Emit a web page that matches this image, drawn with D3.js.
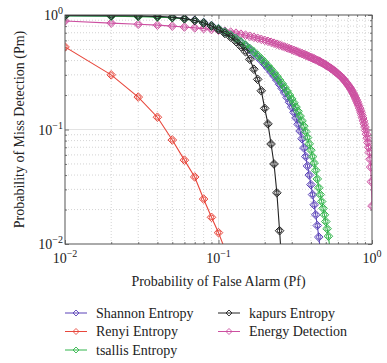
<!DOCTYPE html>
<html><head><meta charset="utf-8">
<script src="https://cdn.jsdelivr.net/npm/d3@7"></script>
<style>
html,body{margin:0;padding:0;background:#fff;}
svg{display:block;}
</style></head>
<body>
<svg id="c" width="387" height="363"></svg>
<script>
// ---- data ----
const seriesNames = ["Shannon Entropy","Renyi Entropy","tsallis Entropy","kapurs Entropy","Energy Detection"];
const seriesColors = ["#5b43b8","#e8473c","#33b54c","#222222","#cc4fa0"];

const pfShannon = [0.01,0.02,0.03,0.04,0.05,0.06,0.07,0.08,0.09,0.10,0.11,0.12,0.13,0.14,0.15,0.16,0.17,0.18,0.19,0.20,0.21,0.22,0.23,0.24,0.25,0.26,0.27,0.28,0.29,0.30,0.31,0.32,0.33,0.34,0.35,0.36,0.37,0.38,0.39,0.40,0.41,0.42,0.43,0.44,0.45,0.46];
const pmShannon = [0.985,0.982,0.975,0.965,0.95,0.93,0.9,0.86,0.81,0.76,0.71,0.665,0.62,0.58,0.54,0.50,0.465,0.43,0.40,0.37,0.343,0.317,0.293,0.27,0.248,0.228,0.209,0.19,0.173,0.157,0.141,0.126,0.111,0.097,0.083,0.069,0.058,0.048,0.040,0.033,0.027,0.022,0.018,0.0145,0.0115,0.009];

const pfRenyi = [0.01,0.02,0.03,0.04,0.05,0.06,0.07,0.08,0.09,0.10,0.11];
const pmRenyi = [0.526,0.30,0.192,0.128,0.081,0.054,0.0385,0.0247,0.0171,0.01256,0.009];

const pfTsallis = [0.01,0.02,0.03,0.04,0.05,0.06,0.07,0.08,0.09,0.10,0.11,0.12,0.13,0.14,0.15,0.16,0.17,0.18,0.19,0.20,0.21,0.22,0.23,0.24,0.25,0.26,0.27,0.28,0.29,0.30,0.31,0.32,0.33,0.34,0.35,0.36,0.37,0.38,0.39,0.40,0.41,0.42,0.43,0.44,0.45,0.46,0.47,0.48,0.49,0.50,0.51,0.52,0.53];
const pmTsallis = [0.98,0.975,0.968,0.958,0.945,0.925,0.895,0.855,0.805,0.755,0.71,0.665,0.622,0.582,0.545,0.51,0.477,0.445,0.415,0.387,0.36,0.336,0.313,0.291,0.27,0.251,0.233,0.216,0.2,0.185,0.171,0.157,0.144,0.131,0.119,0.107,0.096,0.085,0.075,0.066,0.058,0.051,0.044,0.037,0.031,0.027,0.0235,0.0205,0.018,0.0157,0.0136,0.0117,0.0095];

const pfKapur = [0.01,0.02,0.03,0.04,0.05,0.06,0.07,0.08,0.09,0.10,0.11,0.12,0.13,0.14,0.15,0.16,0.17,0.18,0.19,0.20,0.21,0.22,0.23,0.24,0.25,0.26];
const pmKapur = [0.99,0.988,0.982,0.972,0.955,0.93,0.895,0.85,0.80,0.745,0.69,0.64,0.585,0.53,0.478,0.41,0.336,0.274,0.218,0.153,0.112,0.0747,0.050,0.028,0.01306,0.006];

const pfEnergy = [0.01,0.02,0.03,0.04,0.05,0.06,0.07,0.08,0.09,0.10,0.11,0.12,0.13,0.14,0.15,0.16,0.17,0.18,0.19,0.20,0.21,0.22,0.23,0.24,0.25,0.26,0.27,0.28,0.29,0.30,0.31,0.32,0.33,0.34,0.35,0.36,0.37,0.38,0.39,0.40,0.41,0.42,0.43,0.44,0.45,0.46,0.47,0.48,0.49,0.50,0.51,0.52,0.53,0.54,0.55,0.56,0.57,0.58,0.59,0.60,0.61,0.62,0.63,0.64,0.65,0.66,0.67,0.68,0.69,0.70,0.71,0.72,0.73,0.74,0.75,0.76,0.77,0.78,0.79,0.80,0.81,0.82,0.83,0.84,0.85,0.86,0.87,0.88,0.89,0.90,0.91,0.92,0.93,0.94,0.95,0.96,0.97,0.98,0.99,1.00];
const pmEnergy = [0.887,0.85,0.83,0.815,0.80,0.785,0.772,0.76,0.748,0.736,0.722,0.708,0.694,0.68,0.666,0.652,0.639,0.626,0.613,0.601,0.589,0.578,0.567,0.556,0.546,0.536,0.526,0.517,0.508,0.499,0.491,0.483,0.475,0.467,0.46,0.453,0.446,0.439,0.432,0.426,0.42,0.414,0.408,0.402,0.396,0.39,0.384,0.378,0.372,0.366,0.36,0.354,0.348,0.342,0.336,0.33,0.324,0.318,0.312,0.306,0.3,0.294,0.288,0.282,0.276,0.27,0.263,0.257,0.25,0.244,0.237,0.231,0.224,0.217,0.21,0.203,0.196,0.189,0.182,0.175,0.168,0.161,0.154,0.147,0.14,0.133,0.126,0.119,0.112,0.105,0.098,0.091,0.084,0.077,0.07,0.063,0.055,0.047,0.035,0.0215];

const xMajorTicks = [0.01,0.1,1];
const xTickExp = ["−2","−1","0"];
const yMajorTicks = [0.01,0.1,1];
const yTickExp = ["−2","−1","0"];
const xLabel = "Probability of False Alarm (Pf)";
const yLabel = "Probability of Miss Detection (Pm)";

// ---- drawing ----
const FONT = "Liberation Serif, Times New Roman, DejaVu Serif, serif";
const svg = d3.select("#c");
const L = 65, R = 372, T = 15, B = 244;
const x = d3.scaleLog().domain([0.01,1]).range([L,R]);
const y = d3.scaleLog().domain([0.01,1]).range([B,T]);

const minors = [];
[0.01,0.1].forEach(d=>{for(let k=2;k<=9;k++) minors.push(+(d*k).toFixed(3));});

// grid
const g = svg.append("g");
g.selectAll(".gxm").data(minors).join("line")
  .attr("x1",d=>x(d)).attr("x2",d=>x(d)).attr("y1",T).attr("y2",B)
  .attr("stroke","#c8c8c8").attr("stroke-width",0.8).attr("stroke-dasharray","1,2");
g.selectAll(".gym").data(minors).join("line")
  .attr("y1",d=>y(d)).attr("y2",d=>y(d)).attr("x1",L).attr("x2",R)
  .attr("stroke","#c8c8c8").attr("stroke-width",0.8).attr("stroke-dasharray","1,2");
g.selectAll(".gxM").data(xMajorTicks).join("line")
  .attr("x1",d=>x(d)).attr("x2",d=>x(d)).attr("y1",T).attr("y2",B)
  .attr("stroke","#dcdcdc").attr("stroke-width",0.8);
g.selectAll(".gyM").data(yMajorTicks).join("line")
  .attr("y1",d=>y(d)).attr("y2",d=>y(d)).attr("x1",L).attr("x2",R)
  .attr("stroke","#dcdcdc").attr("stroke-width",0.8);

// axes with inner ticks
function styleAxis(sel){
  sel.select(".domain").remove();
  sel.selectAll("line").attr("stroke","#555").attr("stroke-width",0.8);
}
svg.append("g").attr("transform",`translate(0,${B})`)
  .call(d3.axisBottom(x).tickValues(xMajorTicks).tickSize(-4).tickFormat("")).call(styleAxis);
svg.append("g").attr("transform",`translate(0,${B})`)
  .call(d3.axisBottom(x).tickValues(minors).tickSize(-2).tickFormat("")).call(styleAxis);
svg.append("g").attr("transform",`translate(0,${T})`)
  .call(d3.axisTop(x).tickValues(xMajorTicks).tickSize(-4).tickFormat("")).call(styleAxis);
svg.append("g").attr("transform",`translate(0,${T})`)
  .call(d3.axisTop(x).tickValues(minors).tickSize(-2).tickFormat("")).call(styleAxis);
svg.append("g").attr("transform",`translate(${L},0)`)
  .call(d3.axisLeft(y).tickValues(yMajorTicks).tickSize(-4).tickFormat("")).call(styleAxis);
svg.append("g").attr("transform",`translate(${L},0)`)
  .call(d3.axisLeft(y).tickValues(minors).tickSize(-2).tickFormat("")).call(styleAxis);
svg.append("g").attr("transform",`translate(${R},0)`)
  .call(d3.axisRight(y).tickValues(yMajorTicks).tickSize(-4).tickFormat("")).call(styleAxis);
svg.append("g").attr("transform",`translate(${R},0)`)
  .call(d3.axisRight(y).tickValues(minors).tickSize(-2).tickFormat("")).call(styleAxis);

// clip
svg.append("clipPath").attr("id","clip").append("rect")
  .attr("x",L).attr("y",T).attr("width",R-L).attr("height",B-T);

const series = [
  {pf:pfShannon, pm:pmShannon},
  {pf:pfRenyi, pm:pmRenyi},
  {pf:pfTsallis, pm:pmTsallis},
  {pf:pfKapur, pm:pmKapur},
  {pf:pfEnergy, pm:pmEnergy}
];
const line = d3.line().x(d=>x(d[0])).y(d=>y(d[1]));
function marker(sel, color){
  sel.append("path").attr("d","M0,-4.3L4.3,0L0,4.3L-4.3,0Z")
    .attr("fill","none").attr("stroke",color).attr("stroke-width",1);
  sel.append("circle").attr("r",2.2).attr("fill","none").attr("stroke",color).attr("stroke-width",0.9);
}
const plot = svg.append("g").attr("clip-path","url(#clip)");
const order = [4,0,2,1,3];
order.forEach(i=>{
  const s = series[i];
  const pts = s.pf.map((p,j)=>[p,s.pm[j]]);
  plot.append("path").datum(pts).attr("d",line)
    .attr("fill","none").attr("stroke",seriesColors[i]).attr("stroke-width",1.1);
  pts.filter(d=>d[1]>=0.0099).forEach(d=>{
    const m = plot.append("g").attr("transform",`translate(${x(d[0])},${y(d[1])})`);
    marker(m, seriesColors[i]);
  });
});

// frame
svg.append("rect").attr("x",L).attr("y",T).attr("width",R-L).attr("height",B-T)
  .attr("fill","none").attr("stroke","#555").attr("stroke-width",0.9);

function txt(sel){ return sel.attr("font-family",FONT).attr("fill","#222"); }

// tick labels
xMajorTicks.forEach((d,i)=>{
  const t = txt(svg.append("text")).attr("x",x(d)).attr("y",263).attr("text-anchor","middle").attr("font-size",14);
  t.append("tspan").text("10");
  t.append("tspan").attr("dy",-6).attr("font-size",10).text(xTickExp[i]);
});
yMajorTicks.forEach((d,i)=>{
  const t = txt(svg.append("text")).attr("x",L-2).attr("y",y(d)+5).attr("text-anchor","end").attr("font-size",14);
  t.append("tspan").text("10");
  t.append("tspan").attr("dy",-6).attr("font-size",10).text(yTickExp[i]);
});

// axis labels
txt(svg.append("text")).attr("x",(L+R)/2).attr("y",286).attr("text-anchor","middle").attr("font-size",14).text(xLabel);
txt(svg.append("text")).attr("transform",`translate(24,${(T+B)/2}) rotate(-90)`).attr("text-anchor","middle").attr("font-size",14).text(yLabel);

// legend
const legPos = [[65,313],[65,331.5],[65,350],[218,313],[218,331.5]];
seriesNames.forEach((n,i)=>{
  const [lx,ly] = legPos[i];
  const lg = svg.append("g");
  lg.append("line").attr("x1",lx).attr("x2",lx+22).attr("y1",ly).attr("y2",ly)
    .attr("stroke",seriesColors[i]).attr("stroke-width",1);
  const m = lg.append("g").attr("transform",`translate(${lx+11},${ly})`);
  m.append("path").attr("d","M0,-3L3,0L0,3L-3,0Z").attr("fill","none").attr("stroke",seriesColors[i]).attr("stroke-width",0.9);
  txt(lg.append("text")).attr("x",lx+31).attr("y",ly+4.5).attr("font-size",14).text(n);
});
</script>
</body></html>
